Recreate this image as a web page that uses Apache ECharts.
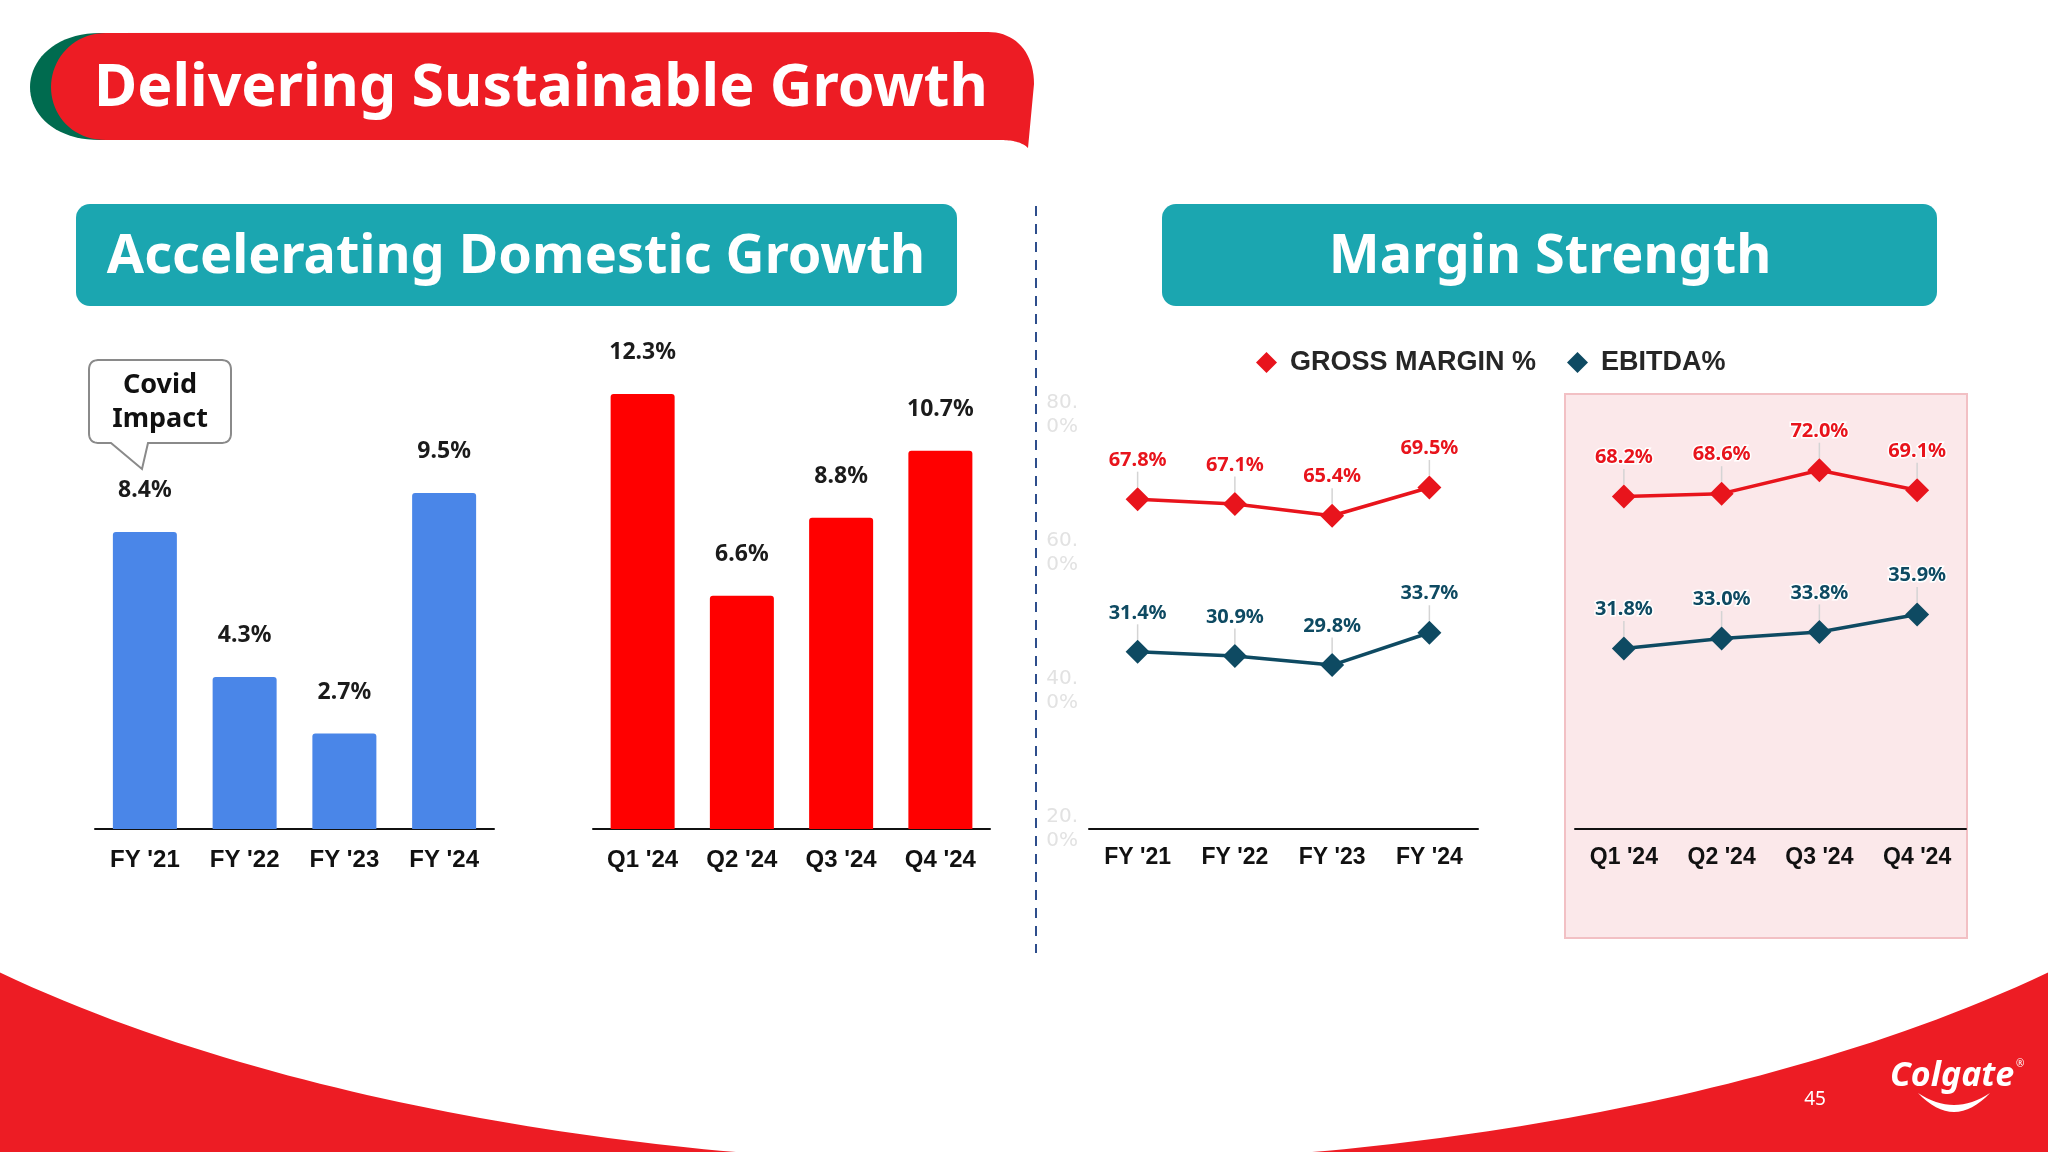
<!DOCTYPE html>
<html>
<head>
<meta charset="utf-8">
<title>Delivering Sustainable Growth</title>
<script src="https://cdn.jsdelivr.net/npm/echarts/dist/echarts.min.js"></script>
<style>
  html, body { margin: 0; padding: 0; background: #fff; }
  #main { width: 2048px; height: 1152px; }
</style>
</head>
<body>
<div id="main"></div>
<script>
const yearCats = ["FY '21", "FY '22", "FY '23", "FY '24"]
const quarterCats = ["Q1 '24", "Q2 '24", "Q3 '24", "Q4 '24"]

// domestic growth %
const domesticYear = [8.4, 4.3, 2.7, 9.5]
const domesticQuarter = [12.3, 6.6, 8.8, 10.7]

// margins %
const grossYear = [67.8, 67.1, 65.4, 69.5]
const ebitdaYear = [31.4, 30.9, 29.8, 33.7]
const grossQuarter = [68.2, 68.6, 72.0, 69.1]
const ebitdaQuarter = [31.8, 33.0, 33.8, 35.9]

const marginTicks = [20, 40, 60, 80]
const ebitdaRange = [10, 60]
const growthMax = 14

const RED = '#ED1C24'
const TEAL = '#1BA6B0'
const GROSS = '#E8141C'
const EBITDA = '#0E4A62'
const LABEL_FONT = 'Noto Sans'
const AXIS_FONT = 'Liberation Sans'

const pct = v => v.toFixed(1) + '%'

// turn M/L/Q/C commands into polygon points (graphic has no free path type)
function outline(cmds) {
  const pts = []
  let cx = 0, cy = 0
  cmds.forEach(c => {
    const t = c[0]
    if (t === 'M' || t === 'L') {
      cx = c[1]; cy = c[2]
      pts.push([cx, cy])
    } else if (t === 'Q') {
      for (let i = 1; i <= 16; i++) {
        const s = i / 16, r = 1 - s
        pts.push([r * r * cx + 2 * r * s * c[1] + s * s * c[3], r * r * cy + 2 * r * s * c[2] + s * s * c[4]])
      }
      cx = c[3]; cy = c[4]
    } else if (t === 'C') {
      for (let i = 1; i <= 20; i++) {
        const s = i / 20, r = 1 - s
        pts.push([
          r * r * r * cx + 3 * r * r * s * c[1] + 3 * r * s * s * c[3] + s * s * s * c[5],
          r * r * r * cy + 3 * r * r * s * c[2] + 3 * r * s * s * c[4] + s * s * s * c[6]
        ])
      }
      cx = c[5]; cy = c[6]
    }
  })
  return pts
}

function catAxis(gridIndex, data, size, margin) {
  return {
    type: 'category',
    gridIndex: gridIndex,
    data: data,
    axisTick: { show: false },
    axisLine: { lineStyle: { color: '#111', width: 2 } },
    axisLabel: {
      fontFamily: AXIS_FONT,
      fontWeight: 'bold',
      fontSize: size,
      color: '#111',
      margin: margin
    }
  }
}

function barSeries(idx, data, color) {
  return {
    type: 'bar',
    xAxisIndex: idx,
    yAxisIndex: idx,
    data: data,
    barWidth: 64,
    itemStyle: { color: color, borderRadius: [3, 3, 0, 0] },
    label: {
      show: true,
      position: 'top',
      distance: 30,
      fontFamily: LABEL_FONT,
      fontWeight: 'bold',
      fontSize: 23,
      color: '#1b1b1b',
      formatter: p => pct(p.value)
    }
  }
}

function lineSeries(name, xIdx, yIdx, data, color) {
  return {
    name: name,
    type: 'line',
    xAxisIndex: xIdx,
    yAxisIndex: yIdx,
    data: data,
    color: color,
    symbol: 'diamond',
    symbolSize: 24,
    showSymbol: true,
    lineStyle: { width: 3.5, color: color },
    itemStyle: { color: color },
    label: {
      show: true,
      position: 'top',
      distance: 5,
      fontFamily: LABEL_FONT,
      fontWeight: 'bold',
      fontSize: 20,
      color: color,
      textBorderColor: '#fff',
      textBorderWidth: 3,
      formatter: p => pct(p.value)
    },
    labelLine: { show: true, lineStyle: { color: '#d4d4d4', width: 1.5 } },
    labelLayout: { dy: -12 }
  }
}

// bottom swoosh outline
const swoosh = []
for (let x = 0; x <= 2048; x += 16) {
  const t = (x - 1024) / 1362
  swoosh.push([x, Math.min(1152, 600 + 565 * Math.sqrt(1 - t * t))])
}
swoosh.push([2048, 1152], [0, 1152])

const bannerGreen = outline([
  ['M', 100, 33], ['L', 140, 33], ['L', 140, 140], ['L', 100, 140],
  ['C', 55, 140, 30, 115, 30, 87], ['C', 30, 60, 55, 33, 100, 33]
])
const bannerRed = outline([
  ['M', 106, 33], ['L', 988, 32], ['C', 1015, 32, 1034, 52, 1034, 84], ['L', 1028, 148],
  ['C', 1022, 142, 1012, 140, 1000, 140], ['L', 106, 140],
  ['C', 72, 140, 51, 115, 51, 87], ['C', 51, 60, 72, 33, 106, 33]
])
const callout = outline([
  ['M', 99, 360], ['L', 221, 360], ['Q', 231, 360, 231, 370], ['L', 231, 433],
  ['Q', 231, 443, 221, 443], ['L', 148, 443], ['L', 142, 469], ['L', 111, 443],
  ['L', 99, 443], ['Q', 89, 443, 89, 433], ['L', 89, 370], ['Q', 89, 360, 99, 360]
])
const smile = outline([
  ['M', 1918, 1093], ['Q', 1954, 1131, 1990, 1093], ['Q', 1954, 1117, 1918, 1093]
])

const chart = echarts.init(document.getElementById('main'))
chart.setOption({
  backgroundColor: '#fff',
  animation: false,
  legend: {
    left: 1251,
    top: 344,
    icon: 'diamond',
    itemWidth: 21,
    itemHeight: 21,
    itemGap: 31,
    data: ['GROSS MARGIN %', 'EBITDA%'],
    textStyle: {
      fontFamily: AXIS_FONT,
      fontWeight: 'bold',
      fontSize: 27,
      color: '#262626',
      padding: [0, 0, 0, 8]
    }
  },
  grid: [
    { left: 95, width: 399, top: 334, height: 495 },
    { left: 593, width: 397, top: 334, height: 495 },
    { left: 1089, width: 389, top: 415, height: 414 },
    { left: 1575, width: 391, top: 415, height: 414 }
  ],
  xAxis: [
    catAxis(0, yearCats, 24, 19),
    catAxis(1, quarterCats, 24, 19),
    catAxis(2, yearCats, 23, 17),
    catAxis(3, quarterCats, 23, 17)
  ],
  yAxis: [
    { type: 'value', gridIndex: 0, min: 0, max: growthMax, show: false },
    { type: 'value', gridIndex: 1, min: 0, max: growthMax, show: false },
    {
      type: 'value',
      gridIndex: 2,
      min: marginTicks[0],
      max: marginTicks[marginTicks.length - 1],
      interval: marginTicks[1] - marginTicks[0],
      splitLine: { show: false },
      axisLine: { show: false },
      axisTick: { show: false },
      axisLabel: {
        color: '#e2e2e2',
        fontFamily: 'DejaVu Sans',
        fontSize: 20,
        lineHeight: 24,
        margin: 11,
        formatter: v => v.toFixed(1).replace('.', '.\n') + '%'
      }
    },
    { type: 'value', gridIndex: 2, min: ebitdaRange[0], max: ebitdaRange[1], show: false },
    {
      type: 'value',
      gridIndex: 3,
      min: marginTicks[0],
      max: marginTicks[marginTicks.length - 1],
      interval: marginTicks[1] - marginTicks[0],
      show: false
    },
    { type: 'value', gridIndex: 3, min: ebitdaRange[0], max: ebitdaRange[1], show: false }
  ],
  series: [
    barSeries(0, domesticYear, '#4A86E8'),
    barSeries(1, domesticQuarter, '#FF0000'),
    lineSeries('GROSS MARGIN %', 2, 2, grossYear, GROSS),
    lineSeries('EBITDA%', 2, 3, ebitdaYear, EBITDA),
    lineSeries('GROSS MARGIN %', 3, 4, grossQuarter, GROSS),
    lineSeries('EBITDA%', 3, 5, ebitdaQuarter, EBITDA)
  ],
  graphic: {
    elements: [
      // title banner
      { type: 'polygon', shape: { points: bannerGreen }, style: { fill: '#006B4F' } },
      { type: 'polygon', shape: { points: bannerRed }, style: { fill: RED } },
      {
        type: 'text',
        style: {
          text: 'Delivering Sustainable Growth',
          x: 94, y: 89,
          fill: '#fff',
          fontFamily: LABEL_FONT,
          fontWeight: 'bold',
          fontSize: 59,
          verticalAlign: 'middle'
        }
      },
      // section headers
      {
        type: 'rect',
        shape: { x: 76, y: 204, width: 881, height: 102, r: 14 },
        style: { fill: TEAL }
      },
      {
        type: 'text',
        style: {
          text: 'Accelerating Domestic Growth',
          x: 516, y: 258,
          fill: '#fff',
          fontFamily: LABEL_FONT,
          fontWeight: 'bold',
          fontSize: 54,
          align: 'center',
          verticalAlign: 'middle'
        }
      },
      {
        type: 'rect',
        shape: { x: 1162, y: 204, width: 775, height: 102, r: 14 },
        style: { fill: TEAL }
      },
      {
        type: 'text',
        style: {
          text: 'Margin Strength',
          x: 1550, y: 258,
          fill: '#fff',
          fontFamily: LABEL_FONT,
          fontWeight: 'bold',
          fontSize: 54,
          align: 'center',
          verticalAlign: 'middle'
        }
      },
      // divider
      {
        type: 'line',
        shape: { x1: 1036, y1: 206, x2: 1036, y2: 953 },
        style: { stroke: '#2E4E8C', lineWidth: 2, lineDash: [10, 8] }
      },
      // quarterly highlight box
      {
        type: 'rect',
        z: -1,
        shape: { x: 1565, y: 394, width: 402, height: 544 },
        style: { fill: '#FBE8EA', stroke: '#F2C0C4', lineWidth: 2 }
      },
      // covid callout
      {
        type: 'polygon',
        shape: { points: callout },
        style: { fill: '#fff', stroke: '#8a8a8a', lineWidth: 2 }
      },
      {
        type: 'text',
        style: {
          text: 'Covid\nImpact',
          x: 160, y: 402,
          fill: '#111',
          fontFamily: LABEL_FONT,
          fontWeight: 'bold',
          fontSize: 27,
          lineHeight: 34,
          align: 'center',
          verticalAlign: 'middle'
        }
      },
      // footer
      { type: 'polygon', shape: { points: swoosh }, style: { fill: RED } },
      {
        type: 'text',
        style: {
          text: '45',
          x: 1815, y: 1100,
          fill: '#fff',
          fontFamily: LABEL_FONT,
          fontSize: 19,
          align: 'center',
          verticalAlign: 'middle'
        }
      },
      {
        type: 'text',
        style: {
          text: 'Colgate',
          x: 1890, y: 1076,
          fill: '#fff',
          fontFamily: LABEL_FONT,
          fontWeight: 'bold',
          fontStyle: 'italic',
          fontSize: 34,
          verticalAlign: 'middle'
        }
      },
      {
        type: 'text',
        style: {
          text: '®',
          x: 2016, y: 1064,
          fill: '#fff',
          fontFamily: LABEL_FONT,
          fontSize: 10,
          verticalAlign: 'middle'
        }
      },
      { type: 'polygon', shape: { points: smile }, style: { fill: '#fff' } }
    ]
  }
})
</script>
</body>
</html>
